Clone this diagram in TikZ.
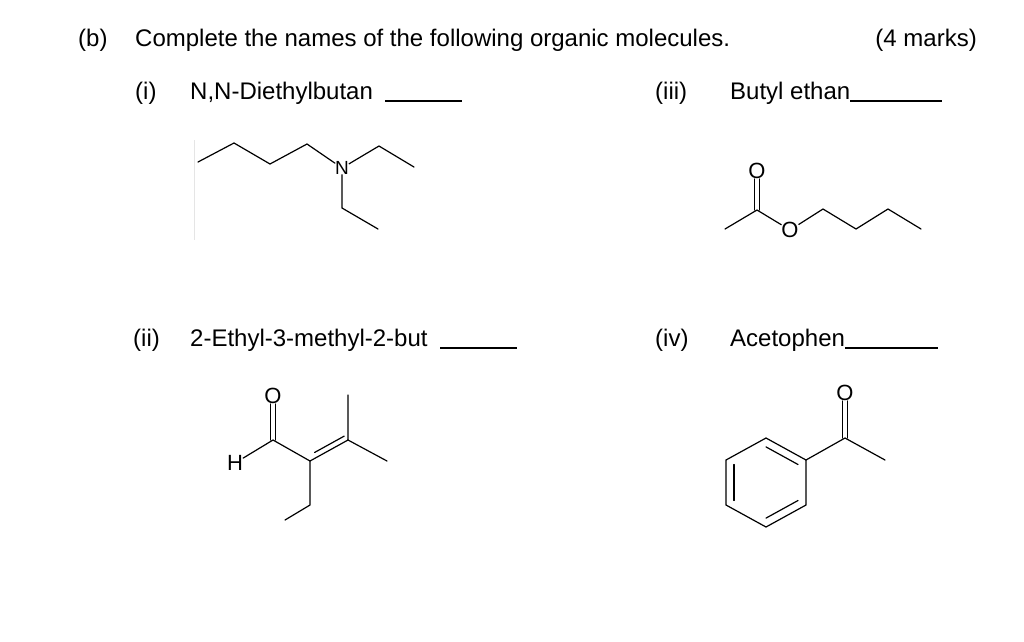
\documentclass[tikz,border=0pt]{standalone}
\usepackage{fontspec}
\setmainfont{Liberation Sans}
\usetikzlibrary{calc}
\begin{document}
\begin{tikzpicture}[x=1pt,y=-1pt,
  txt/.style={anchor=base west,inner sep=0,font=\fontsize{24}{28}\selectfont},
  atom/.style={inner sep=0,font=\fontsize{22}{26}\selectfont},
  bond/.style={line width=1.2pt,line cap=round}]
\useasboundingbox (0,0) rectangle (1024,641);
\node[txt] (b) at (78,46) {(b)};
\node[txt] (q) at (135,46) {Complete the names of the following organic molecules.};
\node[txt,anchor=base east] (m) at (977,46) {(4 marks)};
\node[txt] (i) at (135,99) {(i)};
\node[txt] (ni) at (190,99) {N,N-Diethylbutan};
\node[txt] (iii) at (655,99) {(iii)};
\node[txt] (niii) at (730,99) {Butyl ethan};
\node[txt] (ii) at (133,346) {(ii)};
\node[txt] (nii) at (190,346) {2-Ethyl-3-methyl-2-but};
\node[txt] (iv) at (655,346) {(iv)};
\node[txt] (niv) at (730,346) {Acetophen};
\draw[line width=1.2pt] (385,101) -- (462,101);
\draw[line width=1.2pt] (niii.base east) ++(0,2) -- (942,101);
\draw[line width=1.2pt] (440,348) -- (517,348);
\draw[line width=1.2pt] (niv.base east) ++(0,2) -- (938,348);
% (i)
\draw[black!10] (194,140) -- (194,240);
\node[font=\fontsize{19}{22}\rmfamily\selectfont,inner sep=0] (N) at (342,168) {N};
\draw[bond] (198,162) -- (234,143) -- (270,164) -- (307,144) -- (N);
\draw[bond] (N) -- (379,146) -- (414,167);
\draw[bond] (N) -- (342,208) -- (378,229);
% (iii)
\node[atom] (O1) at (757,171) {O};
\node[atom] (O2) at (790,230) {O};
\coordinate (c1) at (757,210);
\draw[bond] (725,229) -- (c1) -- (O2) -- (823,209) -- (856,229) -- (888,209) -- (921,229);
\draw[bond] ([xshift=-2.5pt]c1) -- ([xshift=-2.5pt]O1.south);
\draw[bond] ([xshift=2.5pt]c1) -- ([xshift=2.5pt]O1.south);
% (ii)
\node[atom] (O3) at (273,396) {O};
\node[atom] (H) at (235,463) {H};
\coordinate (c2) at (273,440);
\coordinate (c3) at (310,461);
\coordinate (c4) at (348,440);
\draw[bond] (H) -- (c2) -- (c3) -- (c4) -- (348,395);
\draw[bond] (c4) -- (387,461);
\draw[bond] (c3) -- (310,505) -- (285,520);
\draw[bond] ([xshift=-2.5pt]c2) -- ([xshift=-2.5pt]O3.south);
\draw[bond] ([xshift=2.5pt]c2) -- ([xshift=2.5pt]O3.south);
\draw[bond] ($(c3)!0.12!(c4)+(0,-6)$) -- ($(c3)!0.9!(c4)+(0,-6)$);
% (iv)
\node[atom] (O4) at (845,393) {O};
\coordinate (r1) at (766,438);
\coordinate (r2) at (806,460);
\coordinate (r3) at (806,505);
\coordinate (r4) at (766,527);
\coordinate (r5) at (726,505);
\coordinate (r6) at (726,460);
\coordinate (c5) at (845,438);
\draw[bond] (r1) -- (r2) -- (r3) -- (r4) -- (r5) -- (r6) -- cycle;
\draw[bond] (r2) -- (c5) -- (885,460);
\draw[bond] ([xshift=-2.5pt]c5) -- ([xshift=-2.5pt]O4.south);
\draw[bond] ([xshift=2.5pt]c5) -- ([xshift=2.5pt]O4.south);
\coordinate (ctr) at (766,482.5);
\draw[bond] ($(ctr)!0.8!(r1)$) -- ($(ctr)!0.8!(r2)$);
\draw[bond] ($(ctr)!0.8!(r5)$) -- ($(ctr)!0.8!(r6)$);
\draw[bond] ($(ctr)!0.8!(r3)$) -- ($(ctr)!0.8!(r4)$);
\end{tikzpicture}
\end{document}
